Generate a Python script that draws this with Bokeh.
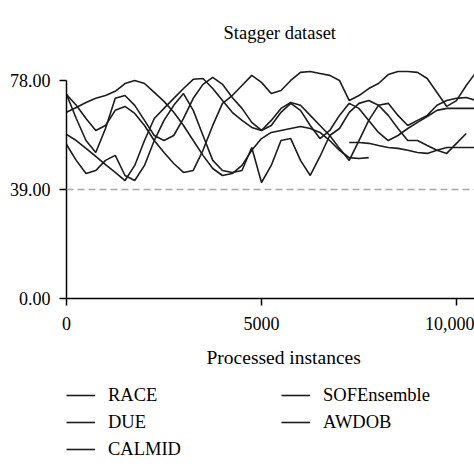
import math
from bokeh.plotting import figure
from bokeh.layouts import column
from bokeh.models import Range1d, FixedTicker, NumeralTickFormatter, Span, Legend, LegendItem, Title
from bokeh.embed import file_html
from bokeh.resources import INLINE

# ---- data ----
method_names = ["RACE", "DUE", "CALMID", "SOFEnsemble", "AWDOB"]

x_race = list(range(0, 7751, 250))
y_race = [66.6, 68.3, 70.1, 71.6, 72.6, 74.1, 76.9, 78.0, 76.9, 73.7, 70.5, 66.6, 61.9, 56.5, 51.2, 46.5,
          44.0, 44.7, 47.6, 53.0, 57.2, 59.4, 60.1, 60.8, 61.5, 60.8, 59.4, 56.5, 53.0, 50.4, 50.1, 50.4]

x_due = list(range(0, 10501, 250))
y_due = [73.0, 64.4, 56.5, 52.2, 60.8, 71.6, 72.6, 69.1, 63.7, 58.3, 56.5, 58.3, 64.4, 71.6, 76.6, 79.1,
         76.6, 71.9, 68.0, 63.0, 60.1, 61.9, 66.6, 69.8, 67.3, 61.9, 57.2, 60.1, 65.5, 69.8, 68.0, 63.7,
         59.4, 56.5, 58.3, 60.8, 63.0, 65.1, 67.3, 68.0, 68.0, 68.0, 68.0]

x_calmid = list(range(0, 10501, 250))
y_calmid = [73.0, 69.1, 64.4, 60.1, 61.9, 67.3, 68.7, 66.2, 61.9, 56.5, 52.2, 48.3, 45.1, 45.8, 53.0, 61.9,
            69.8, 72.6, 76.2, 79.8, 77.3, 73.3, 74.4, 78.0, 80.9, 81.2, 80.5, 79.8, 78.0, 70.8, 72.6, 75.1,
            76.9, 80.1, 81.2, 81.2, 80.9, 78.7, 73.7, 68.7, 70.8, 76.2, 80.9]

x_sof = list(range(0, 10251, 250))
y_sof = [58.7, 56.5, 53.7, 50.8, 47.9, 45.1, 42.2, 47.6, 56.5, 64.4, 68.0, 71.6, 75.1, 78.4, 78.7, 75.1,
         70.8, 66.6, 63.7, 61.2, 60.1, 63.7, 68.0, 70.1, 69.1, 65.5, 61.9, 58.3, 60.8, 66.6, 69.8, 70.8,
         69.1, 65.5, 60.8, 56.5, 56.5, 54.7, 53.0, 51.9, 55.5, 59.0]

x_awdob = list(range(0, 10501, 250))
y_awdob = [55.1, 49.4, 44.7, 45.8, 49.4, 51.2, 44.0, 42.2, 47.6, 56.5, 63.7, 69.1, 73.3, 67.3, 58.3, 49.4,
           45.8, 45.1, 45.8, 54.0, 41.5, 47.6, 56.5, 57.2, 49.4, 44.0, 50.8, 58.3, 53.7, 49.4, 56.5, 63.7,
           69.1, 69.8, 65.5, 61.9, 63.7, 65.5, 69.1, 70.8, 71.6, 71.9, 70.8]

# sixth method (its legend entry lies outside the cropped view)
x_other = list(range(7250, 10501, 250))
y_other = [55.8, 55.8, 55.5, 54.7, 54.0, 53.7, 53.0, 52.2, 51.9, 53.0, 54.0, 54.0, 54.0, 54.0]

y_ticks = [0, 39, 78]
x_ticks = [0, 5000, 10000]
x_tick_labels = {0: "0", 5000: "5000", 10000: "10,000"}
threshold = 39

FONT = "Liberation Serif"
INK = "#1c1c1c"

p = figure(width=474, height=382,
           x_range=Range1d(0, 10462), y_range=Range1d(0, 83.7),
           output_backend="svg", toolbar_location=None,
           min_border_left=66, min_border_right=0, min_border_top=64, min_border_bottom=84)
p.outline_line_color = None
p.xgrid.visible = False
p.ygrid.visible = False
p.background_fill_color = "white"

title = Title(text="Stagger dataset", align="left", offset=157, standoff=40, vertical_align="top",
              text_font=FONT, text_font_size="18.5px", text_font_style="normal", text_color="black")
p.add_layout(title, "above")

p.add_layout(Span(location=threshold, dimension="width", line_color="#a8a8a8",
                  line_width=1.5, line_dash="7 4"))

series = [(x_race, y_race), (x_due, y_due), (x_calmid, y_calmid), (x_sof, y_sof), (x_awdob, y_awdob)]
for xs, ys in series:
    p.line(xs, ys, line_color=INK, line_width=1.6)
p.line(x_other, y_other, line_color=INK, line_width=1.6)

# axes
for ax in (p.xaxis[0], p.yaxis[0]):
    ax.axis_line_color = "black"
    ax.axis_line_width = 1.5
    ax.major_tick_line_color = "black"
    ax.major_tick_line_width = 1.5
    ax.major_tick_out = 7
    ax.major_tick_in = 0
    ax.minor_tick_line_color = None
    ax.major_label_text_font = FONT
    ax.major_label_text_font_size = "18px"
    ax.major_label_text_color = "black"

p.yaxis.ticker = FixedTicker(ticks=y_ticks)
p.yaxis.formatter = NumeralTickFormatter(format="0.00")
p.yaxis.bounds = (0, 78)
p.yaxis.major_label_standoff = 9

p.xaxis.ticker = FixedTicker(ticks=x_ticks)
p.xaxis.major_label_overrides = x_tick_labels
p.xaxis.major_label_standoff = 11

xlabel = Title(text="Processed instances", align="left", offset=140, standoff=24,
               text_font=FONT, text_font_size="19.5px", text_font_style="normal", text_color="black")
p.add_layout(xlabel, "below")

# ---- legend panel under the chart (key samples only, no data drawn) ----
leg = figure(width=474, height=92, x_range=Range1d(0, 1), y_range=Range1d(0, 1),
             output_backend="svg", toolbar_location=None,
             x_axis_location=None, y_axis_location=None,
             min_border_left=0, min_border_right=0, min_border_top=0, min_border_bottom=0)
leg.outline_line_color = None
leg.xgrid.visible = False
leg.ygrid.visible = False
nan = math.nan
leg_renderers = [leg.line([0, 1], [nan, nan], line_color=INK, line_width=1.6) for _ in method_names]
items = [LegendItem(label=n, renderers=[r]) for n, r in zip(method_names, leg_renderers)]
legend = Legend(items=items, location=(0, 14), orientation="vertical", ncols=2,
                glyph_width=29, glyph_height=22, label_height=22, label_width=168,
                label_standoff=13, spacing=5, padding=0, margin=0,
                border_line_alpha=0, background_fill_alpha=0,
                label_text_font=FONT, label_text_font_size="18.5px", label_text_color="black")
leg.add_layout(legend, "center")

layout = column(p, leg, spacing=0)
open("out.html", "w").write(file_html(layout, INLINE))
